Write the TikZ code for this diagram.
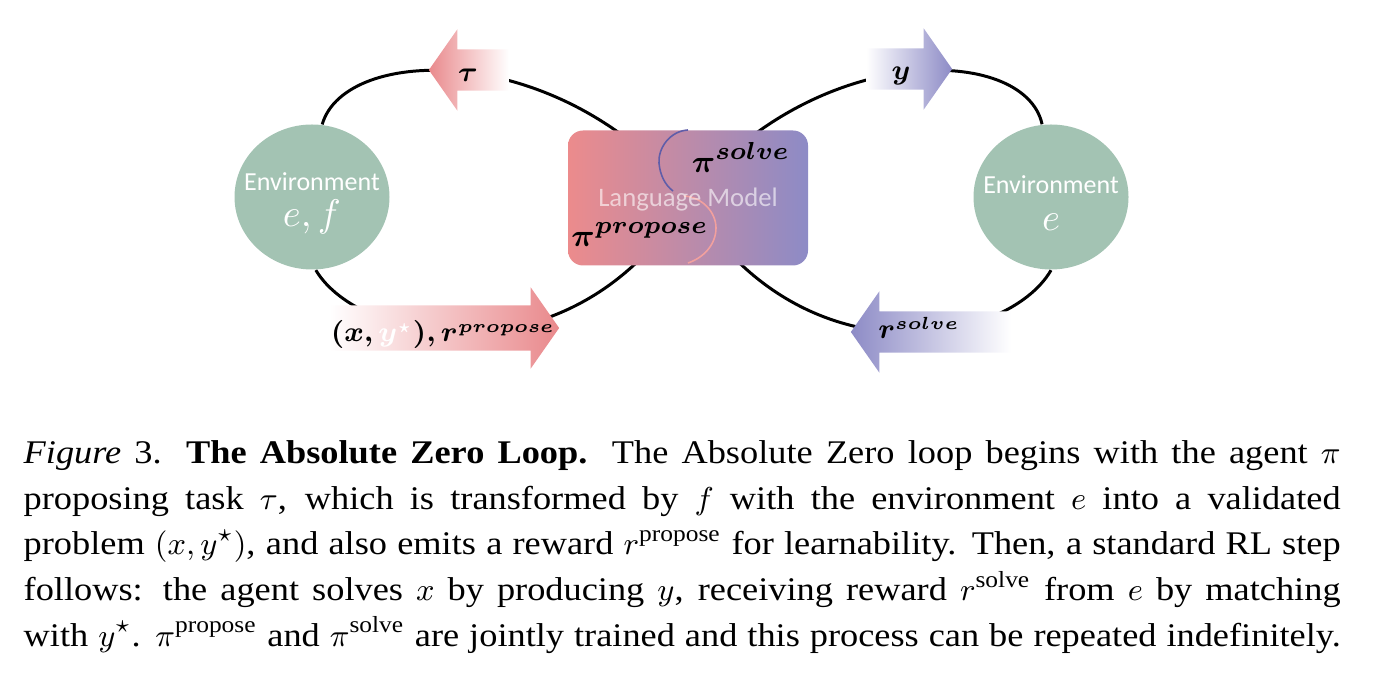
\documentclass[tikz,border=0pt]{standalone}
\usepackage{amsmath,bm}
\usepackage{fontspec}
\setmainfont{Liberation Serif}[FakeStretch=1.1]
\newfontfamily\calib{Carlito}
\usepackage{tikz}
\usetikzlibrary{positioning,shapes.geometric,shapes.arrows,backgrounds}
\definecolor{EnvGreen}{HTML}{A3C3B3}
\definecolor{ProRed}{HTML}{E9898C}
\definecolor{BoxRed}{HTML}{EC8B8C}
\definecolor{SolPurple}{HTML}{8D8BC6}
\definecolor{ArcBlue}{HTML}{5F5DA9}
\definecolor{ArcPink}{HTML}{F2A09E}

\begin{document}
\begin{tikzpicture}[
  x=0.1mm, y=-0.1mm,
  envnode/.style={ellipse,fill=EnvGreen,minimum width=15.5mm,minimum height=14.5mm,inner sep=0pt},
  envtext/.style={align=center,text=white,inner sep=0pt,yshift=-0.6mm,font=\fontsize{7.4}{9.5}\selectfont\calib},
  lmbox/.style={rounded corners=1.5mm,minimum width=24mm,minimum height=13.5mm,inner sep=0pt,
    left color=BoxRed,middle color=BoxRed!50!SolPurple,right color=SolPurple},
  flowarrow/.style={single arrow,single arrow head extend=2mm,single arrow tip angle=110,
    inner xsep=0pt,inner ysep=0.2mm,text height=2.6mm,text depth=1.0mm},
  arrowtext/.style={anchor=base,inner sep=0pt,font=\fontsize{7.8}{9}\selectfont},
  pilabel/.style={anchor=base,inner sep=0pt,font=\fontsize{9.5}{10}\selectfont},
  loopline/.style={line width=0.85pt,draw=black},
  yinarc/.style={line width=0.45pt}
]
\useasboundingbox (0,0) rectangle (1376,676);

% Environments and the model
\node[envnode,label={[envtext]center:{Environment\\[0.3mm]{\fontsize{11}{11}\selectfont$e,f$}}}] (envL) at (312,197) {};
\node[envnode,label={[envtext]center:{Environment\\[0.3mm]{\fontsize{11}{11}\selectfont$e$}}}] (envR) at (1051,197) {};
\node[lmbox] (lm) at (688,198) {};
\draw[yinarc,ArcBlue] (688,130) .. controls (670,131) and (658,148) .. (659,163)
  .. controls (660,175) and (665,185) .. (673,191);
\draw[yinarc,ArcPink] (684,196) .. controls (702,197) and (716,212) .. (716,228)
  .. controls (716,245) and (703,258) .. (688,263);
\node[text=white,opacity=0.6,font=\fontsize{7.6}{9}\selectfont\calib] (lmname) at (688,200) {Language Model};
\node[pilabel] (pisolve) at (741,173) {$\bm{\pi^{solve}}$};
\node[pilabel] (piprop) at (640,247) {$\bm{\pi^{propose}}$};

% Flow arrows
\node[flowarrow,shape border rotate=180,minimum height=8mm,anchor=tip,
  left color=ProRed,middle color=ProRed,right color=white] (tau) at (428,70) {};
\node[flowarrow,minimum height=8.6mm,anchor=tip,
  left color=white,middle color=SolPurple!85!white,right color=SolPurple] (yout) at (953,69) {};
\node[flowarrow,shape border rotate=180,minimum height=16mm,anchor=tip,
  left color=SolPurple,middle color=SolPurple!60!white,right color=white] (rsolve) at (850,332) {};
\node[flowarrow,minimum height=23mm,anchor=tip,inner ysep=0.4mm,single arrow head extend=1.8mm,
  left color=white,middle color=ProRed!60!white,right color=ProRed] (rprop) at (560,328) {};
\node[arrowtext] (taulab) at (468,82) {$\bm{\tau}$};
\node[arrowtext] (ylab) at (901,80) {$\bm{y}$};
\node[arrowtext] (rsolvelab) at (919,339) {$\bm{r^{solve}}$};
\node[arrowtext] (rproplab) at (443,342) {$\bm{(x,}{\color{white}\bm{y^{\star}}}\bm{),r^{propose}}$};

% The loop, behind everything
\begin{scope}[on background layer]
\draw[loopline] (envL.82) .. controls (345,45) and (560,40) .. (lm.center);
\draw[loopline] (envL.-87) .. controls (360,345) and (575,385) .. (lm.center);
\draw[loopline] (lm.center) .. controls (816,40) and (1025,45) .. (envR.97);
\draw[loopline] (lm.center) .. controls (801,385) and (1008,345) .. (envR.-90);
\end{scope}

% Caption
\node[anchor=north west,text width=131.7mm,align=justify,inner sep=0pt,
  font=\fontsize{9.4}{13}\selectfont] (caption) at (23,440)
  {\textit{Figure} 3. \textbf{The Absolute Zero Loop.} The Absolute Zero loop begins with the agent $\pi$\linebreak
   proposing task $\tau$, which is transformed by $f$ with the environment $e$ into a validated\linebreak
   problem $(x,y^\star)$, and also emits a reward $r^{\textrm{propose}}$ for learnability. Then, a standard RL step\linebreak
   follows: the agent solves $x$ by producing $y$, receiving reward $r^{\textrm{solve}}$ from $e$ by matching\linebreak
   with $y^\star$. $\pi^{\textrm{propose}}$ and $\pi^{\textrm{solve}}$ are jointly trained and this process can be repeated indefinitely.\linebreak};
\end{tikzpicture}
\end{document}
